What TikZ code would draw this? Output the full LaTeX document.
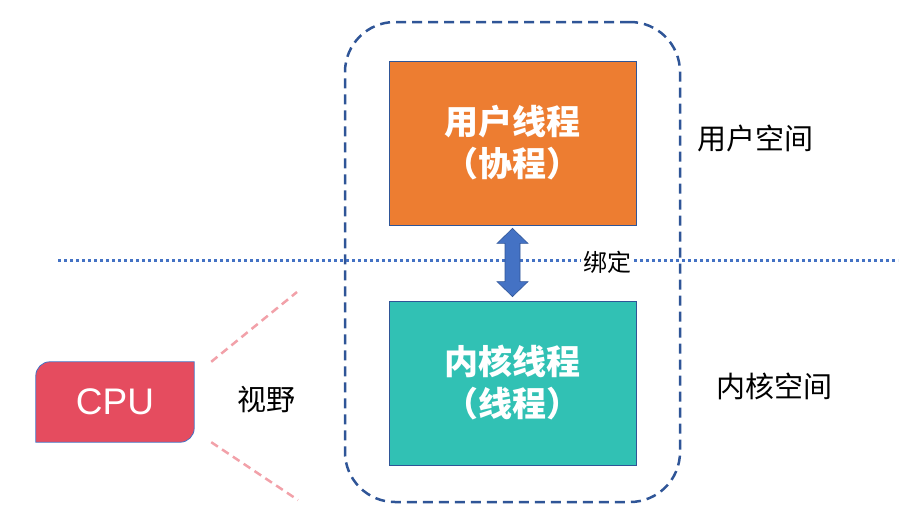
\documentclass[tikz,border=0pt]{standalone}
\usepackage{fontspec}
\newfontfamily\cjk{Noto Sans CJK SC}
\newfontfamily\arial{Liberation Sans}
\usetikzlibrary{calc,backgrounds}

\definecolor{userorange}{HTML}{ED7D31}
\definecolor{kernelteal}{HTML}{31C1B4}
\definecolor{cpured}{HTML}{E54C5F}
\definecolor{linkblue}{HTML}{4472C4}
\definecolor{edgeblue}{HTML}{2F5597}
\definecolor{viewpink}{HTML}{F2A1A9}

\begin{document}
\begin{tikzpicture}[x=1pt,y=-1pt,
    threadbox/.style={rectangle, draw=edgeblue, line width=0.8pt, minimum width=247pt, minimum height=164pt,
      text=white, align=center, font=\cjk\bfseries\fontsize{34}{42}\selectfont},
    spacelabel/.style={font=\cjk\fontsize{29}{34}\selectfont},
    spacebox/.style={draw=edgeblue, line width=2.5pt, dash pattern=on 10pt off 6pt, rounded corners=50pt,
      minimum width=335pt, minimum height=480pt},
    splitline/.style={linkblue, line width=3pt, dash pattern=on 3pt off 3pt},
    viewline/.style={viewpink, line width=2.5pt, dash pattern=on 8pt off 5pt},
    bindarrow/.style={fill=linkblue, draw=edgeblue, line width=0.6pt, line join=miter}]

      % Variables
      \def \midx   {512.5}
      \def \splity {260}
      \def \cpur   {14}
      \def \cpuk   {6.3}

      \useasboundingbox (0,0) rectangle (899,530);

      % Dashed border
      \node[spacebox] (space) at (\midx,262) {};

      % Split line
      \coordinate (lineL) at (58,\splity);
      \coordinate (lineR) at (898,\splity);
      \draw[splitline] (lineL) -- (lineR);

      % Rectangles
      \node[threadbox, fill=userorange] (user) at (\midx,143) {用户线程\\（协程）};
      \node[threadbox, fill=kernelteal] (kernel) at (\midx,383) {内核线程\\（线程）};

      % Double arrow
      \coordinate (bt) at ($(user.south)+(0,3)$);
      \coordinate (bb) at ($(kernel.north)+(0,-4)$);
      \draw[bindarrow] (bt) -- ++(15.5,15) -- ++(-8,0) -- ($(bb)+(7.5,-15)$) -- ++(8,0) -- (bb)
        -- ++(-15.5,-15) -- ++(8,0) -- ($(bt)+(-7.5,15)$) -- ++(-8,0) -- cycle;
      \node[fill=white, inner sep=2pt, font=\cjk\fontsize{24}{28}\selectfont] (bind) at (607,262) {绑定};

      % Space labels
      \node[spacelabel] (userspace) at (755,138) {用户空间};
      \node[spacelabel] (kernelspace) at (774,386) {内核空间};

      % CPU
      \node[minimum width=158pt, minimum height=80pt, text=white, font=\arial\fontsize{37}{40}\selectfont] (cpu) at (115,402) {CPU};
      \begin{scope}[on background layer]
        \draw[fill=cpured, draw=linkblue, line width=0.8pt] (cpu.south west) -- ($(cpu.north west)+(0,\cpur)$)
          .. controls ($(cpu.north west)+(0,\cpuk)$) and ($(cpu.north west)+(\cpuk,0)$) .. ($(cpu.north west)+(\cpur,0)$)
          -- (cpu.north east) -- ($(cpu.south east)+(0,-\cpur)$)
          .. controls ($(cpu.south east)+(0,-\cpuk)$) and ($(cpu.south east)+(-\cpuk,0)$) .. ($(cpu.south east)+(-\cpur,0)$)
          -- cycle;
      \end{scope}

      % View lines
      \coordinate (viewT) at (297,292);
      \coordinate (viewB) at (298,500);
      \draw[viewline] ($(cpu.north east)+(17,0)$) -- (viewT);
      \draw[viewline] ($(cpu.south east)+(17,0)$) -- (viewB);
      \node[spacelabel] (view) at (266,400) {视野};

    \end{tikzpicture}
\end{document}
